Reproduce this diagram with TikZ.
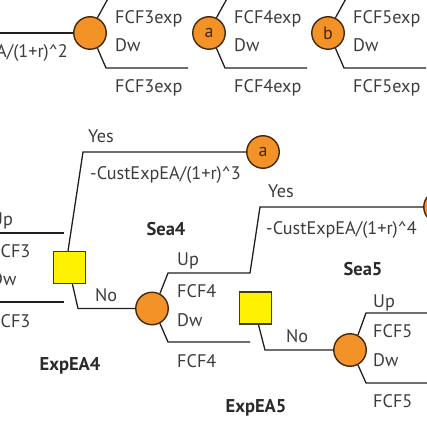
\documentclass[tikz,border=0pt]{standalone}
\usepackage{fontspec}
\setmainfont{PT Sans}

\definecolor{chanceorange}{RGB}{243,146,38}
\definecolor{chanceedge}{RGB}{70,40,15}
\definecolor{decyellow}{RGB}{255,242,0}
\definecolor{decedge}{RGB}{70,60,10}
\definecolor{linegray}{RGB}{35,31,32}
\definecolor{textgray}{RGB}{60,60,60}

\tikzset{
  chance/.style={circle,draw=chanceedge,fill=chanceorange,line width=1.4pt,minimum size=32.5pt,inner sep=0pt,text=chanceedge,font=\fontsize{18}{20}\selectfont},
  decision/.style={rectangle,draw=decedge,fill=decyellow,line width=1.4pt,minimum size=32pt,inner sep=0pt},
  branch/.style={draw=linegray,line width=1.3pt},
  lbl/.style={anchor=base west,inner sep=0pt,text=textgray,font=\fontsize{18.2}{20}\selectfont},
  title/.style={anchor=base,inner sep=0pt,text=textgray!70!black,font=\bfseries\fontsize{18.5}{20}\selectfont}
}

\begin{document}
\begin{tikzpicture}[x=1pt,y=-1pt]
\useasboundingbox (0,0) rectangle (427,427);
\clip (0,0) rectangle (427,427);

% top row
\coordinate (in3) at (-5,33);
\foreach \x/\n/\t/\k in {90/top3//3,209/topa/a/4,328/topb/b/5}{
  \node[chance] (\n) at (\x,33) {\t};
  \coordinate (\n-hi) at (\x+20,-5);
  \coordinate (\n-lo) at (\x+98,68);
  \draw[branch] (\n.64) -- (\n-hi);
  \draw[branch] (\n.-64) -- (\x+16,68) -- (\n-lo);
  \node[lbl] (\n-up) at (\x+25,24) {FCF\k exp};
  \node[lbl] (\n-dw) at (\x+25,52) {Dw};
  \node[lbl] (\n-lv) at (\x+25,93) {FCF\k exp};
}
\draw[branch] (in3) -- (top3);
\node[lbl,anchor=base east] (pv2) at (68,58) {-CustExpEA/(1+r)\textasciicircum 2};

% nodes of the lower tree
\node[decision] (exp4) at (69.5,267.5) {};
\node[chance] (sea4) at (152,308.5) {};
\node[chance] (enda) at (263,152) {a};
\node[decision] (exp5) at (255.5,308) {};
\node[chance] (sea5) at (350,350) {};
\node[chance] (endb) at (440,207) {};

\coordinate (sea3u0) at (-5,233);
\coordinate (sea3u1) at (64,233);
\coordinate (sea3d0) at (-5,302);
\coordinate (sea3d1) at (64,302);
\coordinate (sea4d) at (250,342);
\coordinate (sea5u) at (432,313);
\coordinate (sea5d) at (432,383);

\draw[branch] (sea3u0) -- (sea3u1);
\draw[branch] (sea3d0) -- (sea3d1);
\draw[branch] (exp4.95) -- (83,152) -- (enda);
\draw[branch] (exp4.-80) -- (78,308.5) -- (sea4);
\draw[branch] (sea4.62) -- (168,273) -- (250,273) -- (260,207) -- (endb);
\draw[branch] (sea4.-62) -- (168,342) -- (sea4d);
\draw[branch] (exp5.-80) -- (265,350) -- (sea5);
\draw[branch] (sea5.62) -- (366,313) -- (sea5u);
\draw[branch] (sea5.-62) -- (366,383) -- (sea5d);

% labels
\node[lbl] (s3up) at (-9,225) {Up};
\node[lbl] (s3f1) at (-9,257) {FCF3};
\node[lbl] (s3dw) at (-9,285) {Dw};
\node[lbl] (s3f2) at (-9,327) {FCF3};

\node[lbl] (yes4) at (88,143) {Yes};
\node[lbl] (pv3) at (90,180) {-CustExpEA/(1+r)\textasciicircum 3};
\node[lbl] (no4) at (95,301) {No};
\node[title] (t-sea4) at (166,235) {Sea4};
\node[title] (t-exp4) at (70,370) {ExpEA4};

\node[lbl] (s4up) at (177,265) {Up};
\node[lbl] (s4f1) at (177,297) {FCF4};
\node[lbl] (s4dw) at (177,326) {Dw};
\node[lbl] (s4f2) at (177,367) {FCF4};

\node[lbl] (yes5) at (268,197) {Yes};
\node[lbl] (pv4) at (266,234) {-CustExpEA/(1+r)\textasciicircum 4};
\node[lbl] (no5) at (286,342) {No};
\node[title] (t-sea5) at (363,275) {Sea5};
\node[title] (t-exp5) at (256,412) {ExpEA5};

\node[lbl] (s5up) at (373,307) {Up};
\node[lbl] (s5f1) at (373,337) {FCF5};
\node[lbl] (s5dw) at (373,366) {Dw};
\node[lbl] (s5f2) at (373,407) {FCF5};

\end{tikzpicture}
\end{document}
